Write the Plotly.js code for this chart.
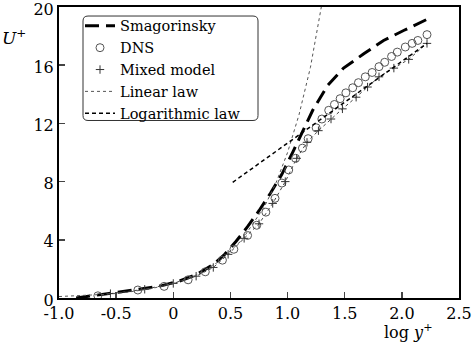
<!DOCTYPE html>
<html>
<head>
<meta charset="utf-8">
<script src="https://cdn.plot.ly/plotly-3.0.1.min.js"></script>
<style>html,body{margin:0;padding:0;background:#fff;}#chart{width:474px;height:345px;}</style>
</head>
<body>
<div id="chart"></div>
<script>
// Smagorinsky model
var smagX = [-0.85, -0.7, -0.5, -0.3, -0.1, 0.05, 0.2, 0.35, 0.45, 0.55, 0.65, 0.75, 0.85, 0.95, 1.05, 1.13, 1.22, 1.35, 1.49, 1.67, 1.84, 2.02, 2.22];
var smagU = [0, 0.15, 0.4, 0.6, 0.85, 1.15, 1.6, 2.3, 3.0, 3.9, 4.9, 6.0, 7.2, 8.5, 10.1, 11.4, 12.9, 14.6, 15.8, 16.8, 17.7, 18.4, 19.15];
// DNS
var dnsX = [-0.66, -0.31, -0.08, 0.13, 0.28, 0.43, 0.53, 0.65, 0.73, 0.81, 0.89, 0.95, 1.01, 1.07, 1.13, 1.18, 1.25, 1.30, 1.36, 1.41, 1.46, 1.51, 1.57, 1.62, 1.68, 1.74, 1.80, 1.85, 1.91, 1.96, 2.03, 2.09, 2.14, 2.22];
var dnsU = [0.15, 0.55, 0.8, 1.25, 1.8, 2.6, 3.35, 4.3, 5.0, 5.9, 6.85, 7.9, 8.8, 9.6, 10.3, 10.95, 11.7, 12.3, 12.9, 13.3, 13.7, 14.1, 14.45, 14.8, 15.2, 15.5, 15.9, 16.2, 16.6, 16.9, 17.25, 17.5, 17.7, 18.1];
// Mixed model
var mixX = [-0.55, -0.25, 0.0, 0.2, 0.35, 0.48, 0.62, 0.75, 0.87, 0.98, 1.08, 1.17, 1.27, 1.38, 1.48, 1.60, 1.70, 1.80, 1.93, 2.06, 2.22];
var mixU = [0.3, 0.6, 1.0, 1.5, 2.1, 3.0, 4.1, 5.1, 6.5, 8.0, 9.6, 10.7, 11.5, 12.3, 13.0, 13.8, 14.5, 15.2, 15.8, 16.4, 17.5];
// Linear law (U+ = y+)
var linX = [-1.0, -0.8, -0.6, -0.4, -0.2, 0.0, 0.2, 0.4, 0.6, 0.8, 0.9, 1.0, 1.1, 1.2, 1.3, 1.35];
var linU = [0.1, 0.16, 0.25, 0.4, 0.63, 1.0, 1.58, 2.51, 3.98, 6.31, 7.94, 10.0, 12.59, 15.85, 19.95, 22.39];
// Logarithmic law
var logX = [0.52, 2.22];
var logU = [7.95, 17.5];
// Axis ticks
var xTicks = [-1.0, -0.5, 0, 0.5, 1.0, 1.5, 2.0, 2.5];
var xTickText = ["-1.0", "-0.5", "0", "0.5", "1.0", "1.5", "2.0", "2.5"];
var yTicks = [0, 4, 8, 12, 16, 20];
var yTickText = ["0", "4", "8", "12", "16", "20"];

var FONT = "DejaVu Serif, Liberation Serif, serif";

var traces = [
  {x: smagX, y: smagU, name: "Smagorinsky", mode: "lines", type: "scatter",
   line: {color: "#000", width: 3, dash: "14px,7px"}},
  {x: dnsX, y: dnsU, name: "DNS", mode: "markers", type: "scatter",
   marker: {symbol: "circle-open", size: 8, color: "#555", line: {width: 1, color: "#555"}}},
  {x: mixX, y: mixU, name: "Mixed model", mode: "lines", type: "scatter", showlegend: false,
   line: {color: "#444", width: 1, dash: "dot"}},
  {x: mixX, y: mixU, name: "Mixed model", mode: "markers", type: "scatter",
   marker: {symbol: "cross-thin-open", size: 6, color: "#333", line: {width: 1, color: "#333"}}},
  {x: linX, y: linU, name: "Linear law", mode: "lines", type: "scatter",
   line: {color: "#555", width: 1, dash: "dot"}},
  {x: logX, y: logU, name: "Logarithmic law", mode: "lines", type: "scatter",
   line: {color: "#000", width: 1.5, dash: "4px,3px"}}
];

// legend box geometry (paper coords)
var L = 0.06, R = 0.4975, T = 0.969, B = 0.61, rx = 0.0125, ry = 0.0171;
var boxPath = "M " + (L + rx) + " " + T + " L " + (R - rx) + " " + T +
  " Q " + R + " " + T + " " + R + " " + (T - ry) +
  " L " + R + " " + (B + ry) + " Q " + R + " " + B + " " + (R - rx) + " " + B +
  " L " + (L + rx) + " " + B + " Q " + L + " " + B + " " + L + " " + (B + ry) +
  " L " + L + " " + (T - ry) + " Q " + L + " " + T + " " + (L + rx) + " " + T + " Z";

var layout = {
  width: 474, height: 345,
  margin: {l: 59, r: 15, t: 7, b: 47},
  paper_bgcolor: "#fff", plot_bgcolor: "#fff",
  font: {family: FONT, size: 16, color: "#000"},
  showlegend: true,
  legend: {x: 0.0525, y: 0.99, xanchor: "left", yanchor: "top", bgcolor: "rgba(0,0,0,0)",
           borderwidth: 0, font: {family: FONT, size: 14.5, color: "#000"}},
  xaxis: {range: [-1.0, 2.5], tickvals: xTicks, ticktext: xTickText, ticks: "inside", ticklen: 6,
          tickwidth: 1.5, showline: true, linewidth: 2, linecolor: "#000", mirror: true,
          showgrid: false, zeroline: false, ticklabeloverflow: "allow", tickfont: {family: FONT, size: 16}},
  yaxis: {range: [0, 20], tickvals: yTicks, ticktext: yTickText, ticks: "inside", ticklen: 6,
          tickwidth: 1.5, showline: true, linewidth: 2, linecolor: "#000", mirror: true,
          showgrid: false, zeroline: false, ticklabeloverflow: "allow", ticklabelshift: 2,
          tickfont: {family: FONT, size: 16}},
  shapes: [{type: "path", xref: "paper", yref: "paper", path: boxPath,
            line: {color: "#333", width: 1}, fillcolor: "rgba(0,0,0,0)", layer: "above"}],
  annotations: [
    {xref: "paper", yref: "paper", x: -0.1125, y: 0.897, xanchor: "center", yanchor: "middle",
     text: "<i>U</i><sup>+</sup>", showarrow: false, font: {family: FONT, size: 17}},
    {xref: "paper", yref: "paper", x: 0.8725, y: -0.116, xanchor: "center", yanchor: "middle",
     text: "log <i>y</i><sup>+</sup>", showarrow: false, font: {family: FONT, size: 16}}
  ]
};

Plotly.newPlot("chart", traces, layout, {staticPlot: true, displayModeBar: false});
</script>
</body>
</html>
